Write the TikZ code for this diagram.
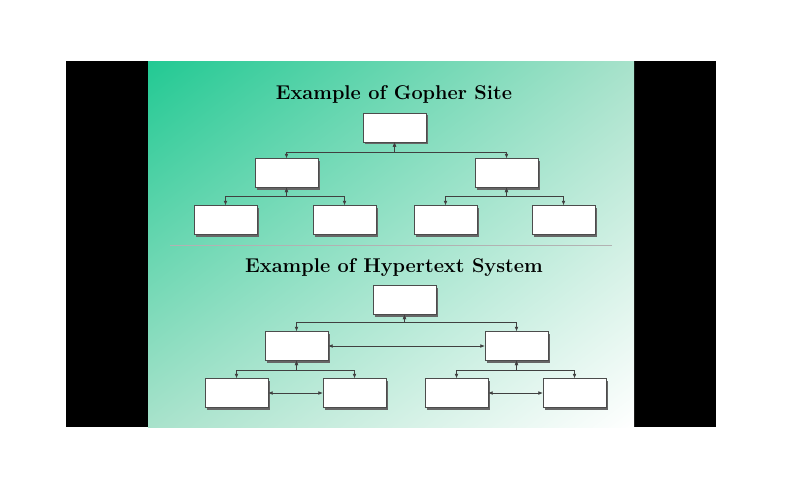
\documentclass[tikz,border=0pt]{standalone}
\usepackage{tikz}
\usetikzlibrary{arrows.meta, shadows, shadings}
\definecolor{slideGreen}{HTML}{22C993}
\definecolor{cornerGreen}{HTML}{A8E2CB}
\begin{document}
\begin{tikzpicture}[
    x=0.03cm, y=-0.03cm,
    page/.style={minimum width=1.89cm, minimum height=0.87cm, draw=black!70, fill=white,
        inner sep=0pt, drop shadow={shadow xshift=0.06cm, shadow yshift=-0.06cm, fill=black!60, opacity=1}},
    title/.style={font=\fontsize{17}{20}\selectfont\bfseries},
    link/.style={draw=black!75, line width=0.5pt, {Latex[length=1.3mm,width=1.1mm]}-{Latex[length=1.3mm,width=1.1mm]}},
    every node/.style={
        text centered,
        }
        ]
    \useasboundingbox (0,0) rectangle (790,495);
    \fill[black] (66,61) rectangle (716,427);
    \shade[upper left=slideGreen, upper right=cornerGreen, lower left=cornerGreen, lower right=white]
        (148,61) rectangle (634,427);
    \draw[black!30, line width=0.6pt] (170,245) -- (612,245);

    % Gopher site
    \node[title] (gTitle) at (394,94) {Example of Gopher Site};
    \node[page] (gRoot) at (394.5,127.5) {};
    \node[page] (gA) at (286.5,173) {};
    \node[page] (gB) at (506.5,173) {};
    \node[page] (gA1) at (225.5,220) {};
    \node[page] (gA2) at (344.5,220) {};
    \node[page] (gB1) at (445.5,220) {};
    \node[page] (gB2) at (563.5,220) {};

    \draw[link] (gRoot.south) |- (gA.north |- 0,152) -- (gA.north);
    \draw[link] (gRoot.south) |- (gB.north |- 0,152) -- (gB.north);
    \draw[link] (gA.south) |- (gA1.north |- 0,196) -- (gA1.north);
    \draw[link] (gA.south) |- (gA2.north |- 0,196) -- (gA2.north);
    \draw[link] (gB.south) |- (gB1.north |- 0,196) -- (gB1.north);
    \draw[link] (gB.south) |- (gB2.north |- 0,196) -- (gB2.north);

    % Hypertext system
    \node[title] (hTitle) at (394,268) {Example of Hypertext System};
    \node[page] (hRoot) at (404.5,300) {};
    \node[page] (hA) at (296.5,346) {};
    \node[page] (hB) at (516.5,346) {};
    \node[page] (hA1) at (236.5,393) {};
    \node[page] (hA2) at (354.5,393) {};
    \node[page] (hB1) at (456.5,393) {};
    \node[page] (hB2) at (574.5,393) {};

    \draw[link] (hRoot.south) |- (hA.north |- 0,322) -- (hA.north);
    \draw[link] (hRoot.south) |- (hB.north |- 0,322) -- (hB.north);
    \draw[link] (hA.south) |- (hA1.north |- 0,370) -- (hA1.north);
    \draw[link] (hA.south) |- (hA2.north |- 0,370) -- (hA2.north);
    \draw[link] (hB.south) |- (hB1.north |- 0,370) -- (hB1.north);
    \draw[link] (hB.south) |- (hB2.north |- 0,370) -- (hB2.north);
    \draw[link] (hA.east) -- (hB.west);
    \draw[link] (hA1.east) -- (hA2.west);
    \draw[link] (hB1.east) -- (hB2.west);
\end{tikzpicture}
\end{document}
